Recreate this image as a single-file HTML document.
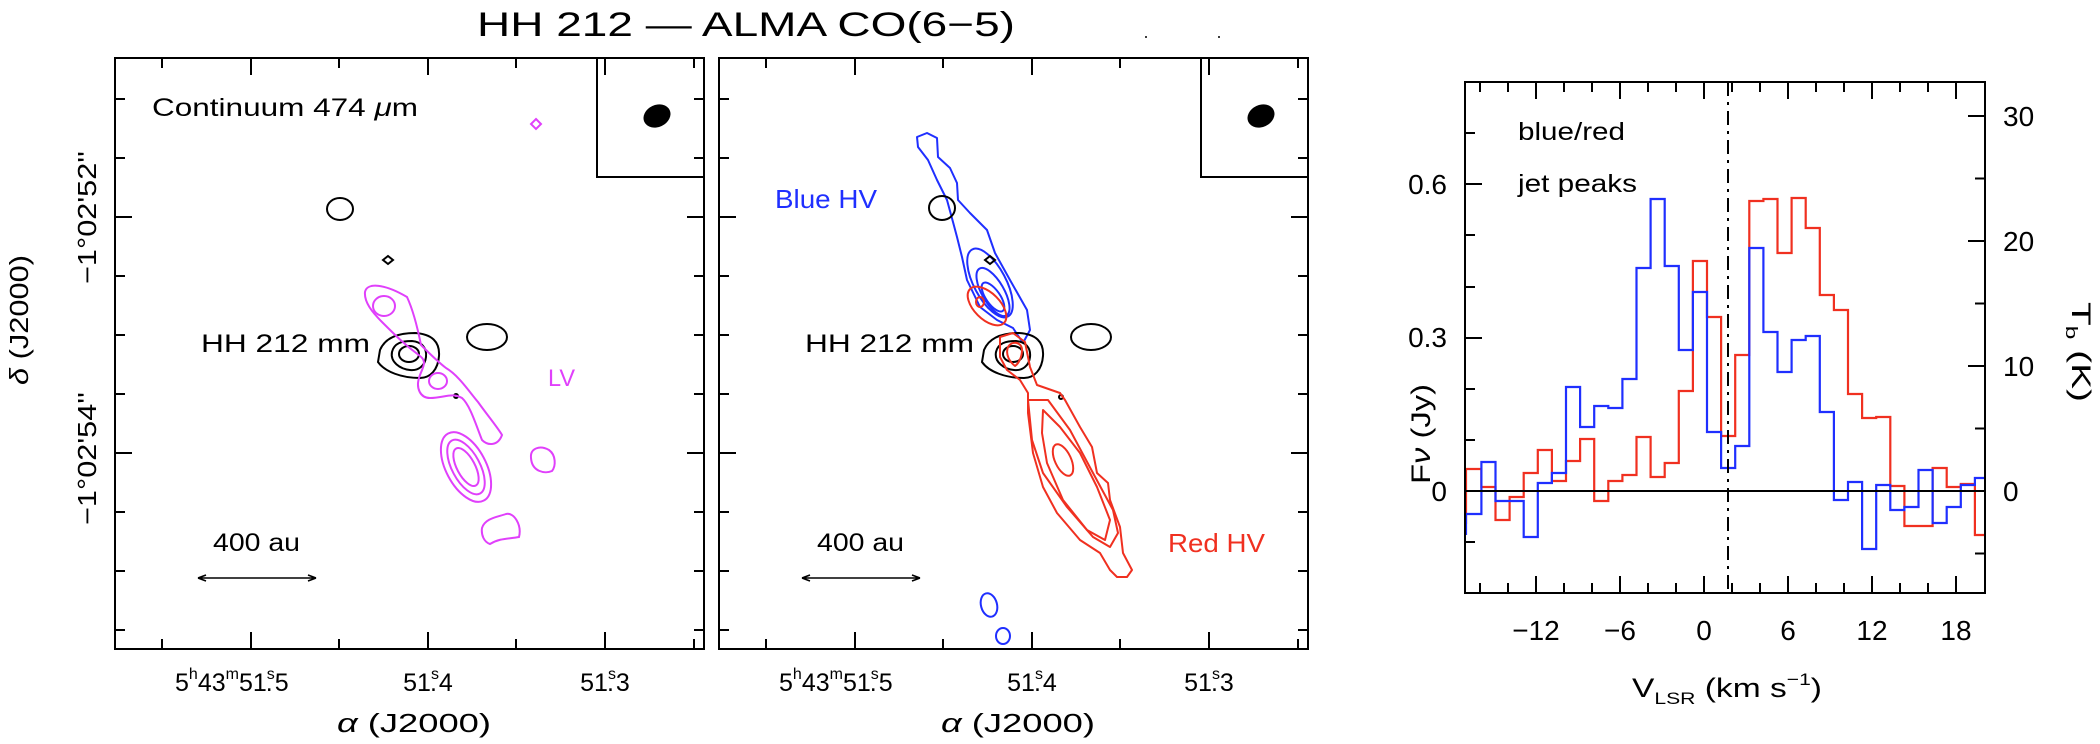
<!DOCTYPE html>
<html><head><meta charset="utf-8"><style>
html,body{margin:0;padding:0;background:#fff;}
svg{display:block;font-family:"Liberation Sans",sans-serif;}
</style></head><body>
<svg width="2100" height="744" viewBox="0 0 2100 744" xmlns="http://www.w3.org/2000/svg">
<rect width="2100" height="744" fill="#fff"/>
<text x="477" y="36" font-size="34" textLength="538" lengthAdjust="spacingAndGlyphs">HH 212 —  ALMA CO(6−5)</text>

<!-- ================= PANEL 1 ================= -->
<g id="p1">
<g fill="none" stroke="#000" stroke-width="2">
<rect x="115" y="58" width="589" height="591"/>
<path d="M597,58 V177 H704"/>
<path d="M162,649v-10 M251,649v-17 M339,649v-10 M428,649v-17 M516,649v-10 M605,649v-17 M694,649v-10"/>
<path d="M162,58v10 M251,58v17 M339,58v10 M428,58v17 M516,58v10 M605,58v17 M694,58v10"/>
<path d="M115,99h10 M115,158h10 M115,217h17 M115,276h10 M115,335h10 M115,394h10 M115,453h17 M115,512h10 M115,571h10 M115,630h10"/>
<path d="M704,99h-10 M704,158h-10 M704,217h-17 M704,276h-10 M704,335h-10 M704,394h-10 M704,453h-17 M704,512h-10 M704,571h-10 M704,630h-10"/>
</g>
<ellipse cx="657" cy="116" rx="14" ry="11" transform="rotate(-25 657 116)" fill="#000"/>
<g fill="none" stroke="#000" stroke-width="2">
<ellipse cx="340" cy="209" rx="13" ry="11"/>
<path d="M388,256 l5,4 l-5,4 l-5,-4z"/>
<path d="M380,350 C385,338 398,333 415,333 C432,334 440,342 439,356 C438,370 430,378 420,378 C402,378 385,372 378,362 Z"/>
<path d="M392,352 C394,343 402,341 412,341 C422,342 427,348 426,357 C425,366 418,371 410,370 C400,369 390,362 392,352 Z"/>
<ellipse cx="409" cy="354" rx="10" ry="8"/>
<ellipse cx="487" cy="337" rx="20" ry="13"/>
<circle cx="456" cy="396" r="2"/>
</g>
<g fill="none" stroke="#e040fb" stroke-width="2">
<path d="M536,119 l5,5 l-5,5 l-5,-5z"/>
<path d="M365,292 C367,282 385,284 407,297 C414,312 418,330 421,345 C428,352 438,362 446,368 C458,375 468,390 478,402 C488,416 498,428 502,435 C498,446 488,446 482,440 C476,425 470,405 462,398 C452,392 444,398 430,398 C420,398 416,388 419,378 C422,368 428,362 420,356 C405,345 395,335 382,322 C372,312 364,302 365,292 Z"/>
<ellipse cx="384" cy="306" rx="11" ry="10"/>
<ellipse cx="438" cy="381" rx="9" ry="8"/>
<ellipse cx="466" cy="467" rx="20" ry="38" transform="rotate(-28 466 467)"/>
<ellipse cx="466" cy="467" rx="14" ry="30" transform="rotate(-28 466 467)"/>
<ellipse cx="466" cy="467" rx="9" ry="21" transform="rotate(-28 466 467)"/>
<path d="M531,458 C530,448 540,445 549,450 C556,455 556,466 552,471 C545,474 532,472 531,458 Z"/>
<path d="M482,528 C485,518 498,517 506,514 C514,512 522,525 519,537 C508,539 500,538 490,544 C484,542 481,535 482,528 Z"/>
</g>
<text x="548" y="386" font-size="24" fill="#e040fb" textLength="27" lengthAdjust="spacingAndGlyphs">LV</text>
<text x="152" y="116" font-size="25" textLength="266" lengthAdjust="spacingAndGlyphs">Continuum 474 <tspan font-style="italic">μ</tspan>m</text>
<text x="201" y="352" font-size="25" textLength="169" lengthAdjust="spacingAndGlyphs">HH 212 mm</text>
<text x="213" y="551" font-size="25" textLength="87" lengthAdjust="spacingAndGlyphs">400 au</text>
<g stroke="#000" stroke-width="1.6" fill="none">
<path d="M198,578 H316 M198,578 l8,-3 M198,578 l8,3 M316,578 l-8,-3 M316,578 l-8,3"/>
</g>
<text x="175" y="691" font-size="25">5<tspan font-size="16" dy="-12">h</tspan><tspan dy="12">43</tspan><tspan font-size="16" dy="-12">m</tspan><tspan dy="12">51</tspan><tspan font-size="16" dy="-12">s</tspan><tspan dy="12" dx="-9">.</tspan><tspan dx="2">5</tspan></text>
<text x="428" y="691" font-size="25" text-anchor="middle">51<tspan font-size="16" dy="-12">s</tspan><tspan dy="12" dx="-9">.</tspan><tspan dx="2">4</tspan></text>
<text x="605" y="691" font-size="25" text-anchor="middle">51<tspan font-size="16" dy="-12">s</tspan><tspan dy="12" dx="-9">.</tspan><tspan dx="2">3</tspan></text>
<text x="337" y="732" font-size="26" textLength="154" lengthAdjust="spacingAndGlyphs"><tspan font-style="italic">α</tspan> (J2000)</text>
<text transform="translate(96 284) rotate(-90)" font-size="26" textLength="133" lengthAdjust="spacingAndGlyphs">−1°02'52''</text>
<text transform="translate(96 525) rotate(-90)" font-size="26" textLength="133" lengthAdjust="spacingAndGlyphs">−1°02'54''</text>
<text transform="translate(28 385) rotate(-90)" font-size="26" textLength="130" lengthAdjust="spacingAndGlyphs"><tspan font-style="italic">δ</tspan> (J2000)</text>
</g>

<!-- ================= PANEL 2 ================= -->
<g id="p2">
<g fill="none" stroke="#000" stroke-width="2">
<rect x="719" y="58" width="589" height="591"/>
<path d="M1201,58 V177 H1308"/>
<path d="M766,649v-10 M855,649v-17 M943,649v-10 M1032,649v-17 M1120,649v-10 M1209,649v-17 M1298,649v-10"/>
<path d="M766,58v10 M855,58v17 M943,58v10 M1032,58v17 M1120,58v10 M1209,58v17 M1298,58v10"/>
<path d="M719,99h10 M719,158h10 M719,217h17 M719,276h10 M719,335h10 M719,394h10 M719,453h17 M719,512h10 M719,571h10 M719,630h10"/>
<path d="M1308,99h-10 M1308,158h-10 M1308,217h-17 M1308,276h-10 M1308,335h-10 M1308,394h-10 M1308,453h-17 M1308,512h-10 M1308,571h-10 M1308,630h-10"/>
</g>
<ellipse cx="1261" cy="116" rx="14" ry="11" transform="rotate(-25 1261 116)" fill="#000"/>
<g fill="none" stroke="#1f2fff" stroke-width="2">
<path d="M917,137 L927,133 L937,138 L938,157 L950,168 L957,183 L958,200 L970,213 L987,230 L995,253 L1010,280 L1027,310 L1030,330 L1023,343 L1013,328 L997,320 L980,307 L967,280 L962,257 L957,237 L953,222 L947,200 L937,180 L928,160 L918,147 Z" stroke-linejoin="round"/>
<ellipse cx="990" cy="283" rx="16" ry="38" transform="rotate(-28 990 283)"/>
<ellipse cx="993" cy="292" rx="11" ry="27" transform="rotate(-30 993 292)"/>
<ellipse cx="993" cy="297" rx="7" ry="17" transform="rotate(-35 993 297)"/>
<ellipse cx="989" cy="605" rx="8" ry="12" transform="rotate(-15 989 605)"/>
<ellipse cx="1003" cy="636" rx="7" ry="8"/>
</g>
<g fill="none" stroke="#000" stroke-width="2">
<ellipse cx="942" cy="208" rx="13" ry="12"/>
<path d="M990,256 l5,4 l-5,4 l-5,-4z"/>
<path d="M984,350 C989,338 1002,333 1019,333 C1036,334 1044,342 1043,356 C1042,370 1034,378 1024,378 C1006,378 989,372 982,362 Z"/>
<path d="M996,352 C998,343 1006,341 1016,341 C1026,342 1031,348 1030,357 C1029,366 1022,371 1014,370 C1004,369 994,362 996,352 Z"/>
<ellipse cx="1013" cy="354" rx="10" ry="8"/>
<ellipse cx="1091" cy="337" rx="20" ry="13"/>
<circle cx="1061" cy="397" r="2"/>
</g>
<g fill="none" stroke="#f03020" stroke-width="2" stroke-linejoin="round">
<ellipse cx="987" cy="306" rx="13" ry="24" transform="rotate(-45 987 306)"/>
<ellipse cx="980" cy="302" rx="4" ry="5"/>
<path d="M1000,337 L1013,333 L1025,342 L1030,367 L1037,385 L1060,393 L1065,400 L1080,427 L1092,447 L1097,473 L1108,483 L1110,500 L1120,527 L1123,553 L1132,570 L1127,577 L1117,577 L1110,570 L1100,553 L1080,540 L1057,513 L1043,487 L1033,453 L1028,413 L1028,393 L1020,380 L1007,370 L1000,357 Z"/>
<path d="M1028,400 L1048,400 L1070,430 L1093,473 L1113,510 L1118,533 L1110,547 L1093,537 L1067,507 L1043,473 L1032,440 Z"/>
<path d="M1043,410 L1060,427 L1080,453 L1097,487 L1110,520 L1105,540 L1087,530 L1063,500 L1047,463 L1042,433 Z"/>
<ellipse cx="1063" cy="460" rx="8" ry="17" transform="rotate(-25 1063 460)"/>
<path d="M1008,347 C1012,340 1022,342 1022,350 C1022,358 1018,364 1015,366 C1010,362 1005,355 1008,347 Z"/>
</g>
<text x="775" y="208" font-size="26" fill="#1f2fff" textLength="102" lengthAdjust="spacingAndGlyphs">Blue HV</text>
<text x="1168" y="552" font-size="26" fill="#f03020" textLength="97" lengthAdjust="spacingAndGlyphs">Red HV</text>
<text x="805" y="352" font-size="25" textLength="169" lengthAdjust="spacingAndGlyphs">HH 212 mm</text>
<text x="817" y="551" font-size="25" textLength="87" lengthAdjust="spacingAndGlyphs">400 au</text>
<g stroke="#000" stroke-width="1.6" fill="none">
<path d="M802,578 H920 M802,578 l8,-3 M802,578 l8,3 M920,578 l-8,-3 M920,578 l-8,3"/>
</g>
<text x="779" y="691" font-size="25">5<tspan font-size="16" dy="-12">h</tspan><tspan dy="12">43</tspan><tspan font-size="16" dy="-12">m</tspan><tspan dy="12">51</tspan><tspan font-size="16" dy="-12">s</tspan><tspan dy="12" dx="-9">.</tspan><tspan dx="2">5</tspan></text>
<text x="1032" y="691" font-size="25" text-anchor="middle">51<tspan font-size="16" dy="-12">s</tspan><tspan dy="12" dx="-9">.</tspan><tspan dx="2">4</tspan></text>
<text x="1209" y="691" font-size="25" text-anchor="middle">51<tspan font-size="16" dy="-12">s</tspan><tspan dy="12" dx="-9">.</tspan><tspan dx="2">3</tspan></text>
<text x="941" y="732" font-size="26" textLength="154" lengthAdjust="spacingAndGlyphs"><tspan font-style="italic">α</tspan> (J2000)</text>
<circle cx="1146" cy="37" r="1" fill="#000"/><circle cx="1219" cy="37" r="1" fill="#000"/>
</g>

<!-- ================= PANEL 3 ================= -->
<g id="p3">
<path d="M1466,524 V469 H1481.4 V487 H1495.5 V520 H1509.6 V497 H1523.7 V473 H1537.8 V450 H1551.9 V481 H1566 V461 H1580.1 V439 H1594.2 V501 H1608.3 V481 H1622.4 V475 H1636.5 V437 H1650.6 V477 H1664.7 V463 H1678.8 V391 H1692.9 V261 H1707 V317 H1721.1 V436 H1735.2 V355 H1749.3 V201 H1763.4 V199 H1777.5 V253 H1791.6 V198 H1805.7 V228 H1819.8 V295 H1833.9 V310 H1848 V394 H1862.1 V418 H1876.2 V417 H1890.3 V486 H1904.4 V526 H1918.5 V526 H1932.6 V468 H1946.7 V487 H1960.8 V484 H1974.9 V535 H1985" fill="none" stroke="#f03020" stroke-width="2.2"/>
<path d="M1466,535 V514 H1481.4 V462 H1495.5 V501 H1509.6 V501 H1523.7 V537 H1537.8 V483 H1551.9 V473 H1566 V387 H1580.1 V427 H1594.2 V406 H1608.3 V408 H1622.4 V379 H1636.5 V268 H1650.6 V199 H1664.7 V266 H1678.8 V350 H1692.9 V292 H1707 V432 H1721.1 V468 H1735.2 V446 H1749.3 V248 H1763.4 V332 H1777.5 V372 H1791.6 V340 H1805.7 V336 H1819.8 V412 H1833.9 V500 H1848 V482 H1862.1 V549 H1876.2 V485 H1890.3 V510 H1904.4 V507 H1918.5 V470 H1932.6 V523 H1946.7 V507 H1960.8 V485 H1974.9 V478 H1985" fill="none" stroke="#1f2fff" stroke-width="2.2"/>
<g fill="none" stroke="#000" stroke-width="2">
<rect x="1465" y="82" width="520" height="511"/>
<path d="M1465,491 H1985"/>
<path d="M1728,82 V593" stroke-dasharray="14,6,3,6"/>
<path d="M1480,593v-10 M1508,593v-10 M1536,593v-17 M1564,593v-10 M1592,593v-10 M1620,593v-17 M1648,593v-10 M1676,593v-10 M1704,593v-17 M1732,593v-10 M1760,593v-10 M1788,593v-17 M1816,593v-10 M1844,593v-10 M1872,593v-17 M1900,593v-10 M1928,593v-10 M1956,593v-17"/>
<path d="M1480,82v10 M1508,82v10 M1536,82v17 M1564,82v10 M1592,82v10 M1620,82v17 M1648,82v10 M1676,82v10 M1704,82v17 M1732,82v10 M1760,82v10 M1788,82v17 M1816,82v10 M1844,82v10 M1872,82v17 M1900,82v10 M1928,82v10 M1956,82v17"/>
<path d="M1465,542h10 M1465,491h17 M1465,440h10 M1465,389h10 M1465,338h17 M1465,287h10 M1465,235h10 M1465,184h17 M1465,133h10"/>
<path d="M1985,553.5h-10 M1985,491h-17 M1985,428.5h-10 M1985,366h-17 M1985,303.5h-10 M1985,241h-17 M1985,178.5h-10 M1985,116h-17"/>
</g>
<g font-size="28">
<text x="1447" y="194" text-anchor="end">0.6</text>
<text x="1447" y="347" text-anchor="end">0.3</text>
<text x="1447" y="501" text-anchor="end">0</text>
<text x="2003" y="126">30</text>
<text x="2003" y="251">20</text>
<text x="2003" y="376">10</text>
<text x="2003" y="501">0</text>
<text x="1536" y="640" text-anchor="middle">−12</text>
<text x="1620" y="640" text-anchor="middle">−6</text>
<text x="1704" y="640" text-anchor="middle">0</text>
<text x="1788" y="640" text-anchor="middle">6</text>
<text x="1872" y="640" text-anchor="middle">12</text>
<text x="1956" y="640" text-anchor="middle">18</text>
</g>
<text x="1518" y="140" font-size="25" textLength="107" lengthAdjust="spacingAndGlyphs">blue/red</text>
<text x="1518" y="192" font-size="25" textLength="119" lengthAdjust="spacingAndGlyphs">jet peaks</text>
<text transform="translate(1430 484) rotate(-90)" font-size="27" textLength="100" lengthAdjust="spacingAndGlyphs">F<tspan font-style="italic">ν</tspan> (Jy)</text>
<text transform="translate(2072 302) rotate(90)" font-size="27" textLength="100" lengthAdjust="spacingAndGlyphs">T<tspan font-size="17" dy="6">b</tspan><tspan dy="-6"> (K)</tspan></text>
<text x="1632" y="697" font-size="27" textLength="190" lengthAdjust="spacingAndGlyphs">V<tspan font-size="17" dy="7">LSR</tspan><tspan dy="-7"> (km s</tspan><tspan font-size="17" dy="-12">−1</tspan><tspan dy="12">)</tspan></text>
</g>
</svg>
</body></html>
